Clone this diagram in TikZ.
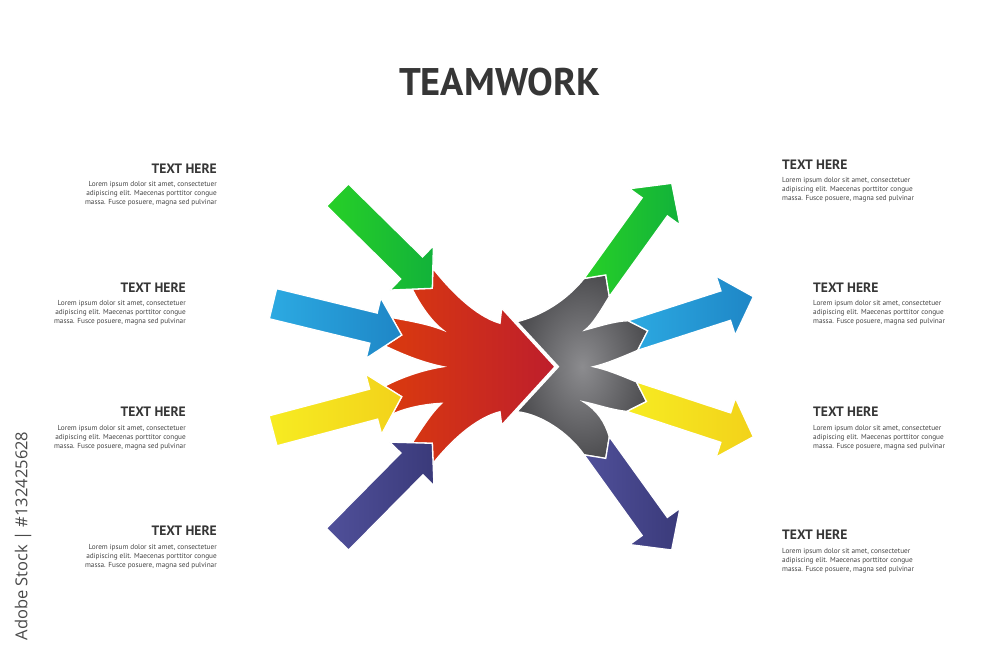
\documentclass[tikz,border=0pt]{standalone}
\usepackage{fontspec}
\setmainfont{PT Sans}
\newfontfamily\wmfont{Open Sans}
\usetikzlibrary{calc}
\definecolor{cGreenL}{HTML}{27D027}
\definecolor{cGreenR}{HTML}{12B23A}
\definecolor{cBlueL}{HTML}{2CAAE2}
\definecolor{cBlueR}{HTML}{1E86C6}
\definecolor{cYellowL}{HTML}{F7EC22}
\definecolor{cYellowR}{HTML}{F2D21A}
\definecolor{cPurpleL}{HTML}{50509A}
\definecolor{cPurpleR}{HTML}{3A3A7A}
\definecolor{cRedL}{HTML}{DA3A0E}
\definecolor{cRedR}{HTML}{BE1E2C}
\definecolor{cGrayIn}{HTML}{8C8C8F}
\definecolor{cGrayOut}{HTML}{4E4E51}
\definecolor{cHead}{HTML}{363636}
\definecolor{cBody}{HTML}{444444}
\definecolor{cWm}{HTML}{4A4A4A}
% define the geometry of a straight arrow from tail centre T to tip H
\newcommand{\DefArw}[3]{%
  \coordinate (#1-T) at #2;
  \coordinate (#1-H) at #3;
  \coordinate (#1-B) at ($(#1-H)!29pt!(#1-T)$);
  \coordinate (#1-b1) at ($(#1-B)!31pt!90:(#1-H)$);
  \coordinate (#1-b2) at ($(#1-B)!31pt!-90:(#1-H)$);
  \coordinate (#1-s1) at ($(#1-B)!15.5pt!90:(#1-H)$);
  \coordinate (#1-s2) at ($(#1-B)!15.5pt!-90:(#1-H)$);
  \coordinate (#1-t1) at ($(#1-T)!15.5pt!90:(#1-H)$);
  \coordinate (#1-t2) at ($(#1-T)!15.5pt!-90:(#1-H)$);
  \coordinate (#1-n) at ($(#1-T)!15.5pt!(#1-H)$);
  \coordinate (#1-c1) at ($(#1-H)!20pt!(#1-b1)$);
  \coordinate (#1-c2) at ($(#1-H)!20pt!(#1-b2)$);
}
\newcommand{\DrawInArw}[3]{%
  \shade[left color=#2, right color=#3]
    (#1-t1) -- (#1-s1) -- (#1-b1) -- (#1-H) -- (#1-b2) -- (#1-s2) -- (#1-t2) -- cycle;
  \draw[arwline] (#1-t1) -- (#1-s1) -- (#1-b1) -- (#1-H) -- (#1-b2) -- (#1-s2) -- (#1-t2) -- cycle;
}
\newcommand{\DrawOutArw}[3]{%
  \shade[left color=#2, right color=#3]
    (#1-t1) -- (#1-s1) -- (#1-b1) -- (#1-H) -- (#1-b2) -- (#1-s2) -- (#1-t2) -- (#1-n) -- cycle;
  \draw[arwline] (#1-t1) -- (#1-s1) -- (#1-b1) -- (#1-H) -- (#1-b2) -- (#1-s2) -- (#1-t2) -- (#1-n) -- cycle;
}
\begin{document}
\begin{tikzpicture}[x=1pt, y=-1pt,
  arwline/.style={draw=white, line width=1.3pt, line join=miter},
  headtxt/.style={font=\fontsize{13.6}{15}\selectfont\bfseries, text=cHead, inner sep=0pt},
  bodytxt/.style={font=\fontsize{7.25}{9}\selectfont, text=cBody, inner sep=0pt},
  titletxt/.style={font=\fontsize{38.5}{42}\selectfont\bfseries, text=cHead, inner sep=0pt}]
\fill[white] (0,0) rectangle (1000,667);
\useasboundingbox (0,0) rectangle (1000,667);

% ---- arrow geometry
\DefArw{gi}{(337.5,195)}{(432.3,288.3)}
\DefArw{bi}{(273,303.7)}{(401.7,335)}
\DefArw{yi}{(273,430.8)}{(401.7,396.7)}
\DefArw{pi}{(337.5,539.2)}{(432.3,443.3)}
\DefArw{go}{(596.7,287.5)}{(671.7,183.3)}
\DefArw{bo}{(633,335.5)}{(753.3,296.7)}
\DefArw{yo}{(631.7,396.7)}{(753.3,436.7)}
\DefArw{po}{(596.7,445.8)}{(671.7,550)}

\coordinate (rS1) at (500,323.3);
\coordinate (rB1) at (501.7,308.3);
\coordinate (rT) at (555,366.7);
\coordinate (rB2) at (501.7,425);
\coordinate (rS2) at (500,411.7);
\coordinate (gG1) at (517,321.7);
\coordinate (gN) at (558.5,366.7);
\coordinate (gG2) at (517,411.7);

% ---- red merging arrow
\def\redpath{(gi-c1) .. controls (450,290) and (475,316) .. (rS1) -- (rB1) -- (rT) -- (rB2) -- (rS2)
  .. controls (475,418) and (450,442) .. (pi-c2) -- (pi-H) -- (pi-c1)
  .. controls (422,428) and (432,412) .. (441.7,403.3)
  .. controls (425,404) and (405,408) .. (yi-c2) -- (yi-H) -- (yi-c1)
  .. controls (400,378) and (422,370) .. (443.3,366.7)
  .. controls (420,362) and (400,353) .. (bi-c2) -- (bi-H) -- (bi-c1)
  .. controls (410,321) and (428,324) .. (443,330)
  .. controls (432,322) and (420,305) .. (gi-c2) -- (gi-H) -- cycle}
\shade[left color=cRedL, right color=cRedR] \redpath;
\draw[arwline] \redpath;

% ---- gray splitting arrow
\def\graypath{(gG1) .. controls (540,316) and (565,302) .. (go-t1) -- (go-n) -- (go-t2)
  .. controls (600,312) and (592,325) .. (585,330)
  .. controls (600,326) and (615,321) .. (bo-t1) -- (bo-n) -- (bo-t2)
  .. controls (620,358) and (605,364) .. (593.3,366.7)
  .. controls (605,369) and (620,375) .. (yo-t1) -- (yo-n) -- (yo-t2)
  .. controls (612,410) and (595,404) .. (583.3,401.7)
  .. controls (597,410) and (605,422) .. (po-t1) -- (po-n) -- (po-t2)
  .. controls (568,432) and (540,414) .. (gG2) -- (gN) -- cycle}
\shade[inner color=cGrayIn, outer color=cGrayOut] \graypath;
\draw[arwline] \graypath;

% ---- straight arrows
\DrawInArw{gi}{cGreenL}{cGreenR}
\DrawInArw{bi}{cBlueL}{cBlueR}
\DrawInArw{yi}{cYellowL}{cYellowR}
\DrawInArw{pi}{cPurpleL}{cPurpleR}
\DrawOutArw{go}{cGreenL}{cGreenR}
\DrawOutArw{bo}{cBlueL}{cBlueR}
\DrawOutArw{yo}{cYellowL}{cYellowR}
\DrawOutArw{po}{cPurpleL}{cPurpleR}

% ---- title
\node[titletxt, anchor=base] (title) at (499.5,95.7) {TEAMWORK};

% ---- left texts
\node[headtxt, anchor=base east] (lh1) at (217,173.5) {TEXT HERE};
\node[bodytxt, anchor=north east, align=right] (lb1) at (217,181.5) {Lorem ipsum dolor sit amet, consectetuer\\adipiscing elit. Maecenas porttitor congue\\massa. Fusce posuere, magna sed pulvinar};
\node[headtxt, anchor=base east] (lh2) at (186,292.5) {TEXT HERE};
\node[bodytxt, anchor=north east, align=right] (lb2) at (186,300.5) {Lorem ipsum dolor sit amet, consectetuer\\adipiscing elit. Maecenas porttitor congue\\massa. Fusce posuere, magna sed pulvinar};
\node[headtxt, anchor=base east] (lh3) at (186,416.5) {TEXT HERE};
\node[bodytxt, anchor=north east, align=right] (lb3) at (186,425.5) {Lorem ipsum dolor sit amet, consectetuer\\adipiscing elit. Maecenas porttitor congue\\massa. Fusce posuere, magna sed pulvinar};
\node[headtxt, anchor=base east] (lh4) at (217,535.5) {TEXT HERE};
\node[bodytxt, anchor=north east, align=right] (lb4) at (217,544.5) {Lorem ipsum dolor sit amet, consectetuer\\adipiscing elit. Maecenas porttitor congue\\massa. Fusce posuere, magna sed pulvinar};

% ---- right texts
\node[headtxt, anchor=base west] (rh1) at (782,169.5) {TEXT HERE};
\node[bodytxt, anchor=north west, align=left] (rb1) at (782,177.5) {Lorem ipsum dolor sit amet, consectetuer\\adipiscing elit. Maecenas porttitor congue\\massa. Fusce posuere, magna sed pulvinar};
\node[headtxt, anchor=base west] (rh2) at (813,292.5) {TEXT HERE};
\node[bodytxt, anchor=north west, align=left] (rb2) at (813,300.5) {Lorem ipsum dolor sit amet, consectetuer\\adipiscing elit. Maecenas porttitor congue\\massa. Fusce posuere, magna sed pulvinar};
\node[headtxt, anchor=base west] (rh3) at (813,416.5) {TEXT HERE};
\node[bodytxt, anchor=north west, align=left] (rb3) at (813,425.5) {Lorem ipsum dolor sit amet, consectetuer\\adipiscing elit. Maecenas porttitor congue\\massa. Fusce posuere, magna sed pulvinar};
\node[headtxt, anchor=base west] (rh4) at (782,539.5) {TEXT HERE};
\node[bodytxt, anchor=north west, align=left] (rb4) at (782,548.5) {Lorem ipsum dolor sit amet, consectetuer\\adipiscing elit. Maecenas porttitor congue\\massa. Fusce posuere, magna sed pulvinar};

% ---- vertical stock label
\node[rotate=90, font=\wmfont\fontsize{16.5}{18}\selectfont, text=cWm, inner sep=0pt] (wm) at (23,536) {Adobe Stock | \#132425628};
\end{tikzpicture}
\end{document}
